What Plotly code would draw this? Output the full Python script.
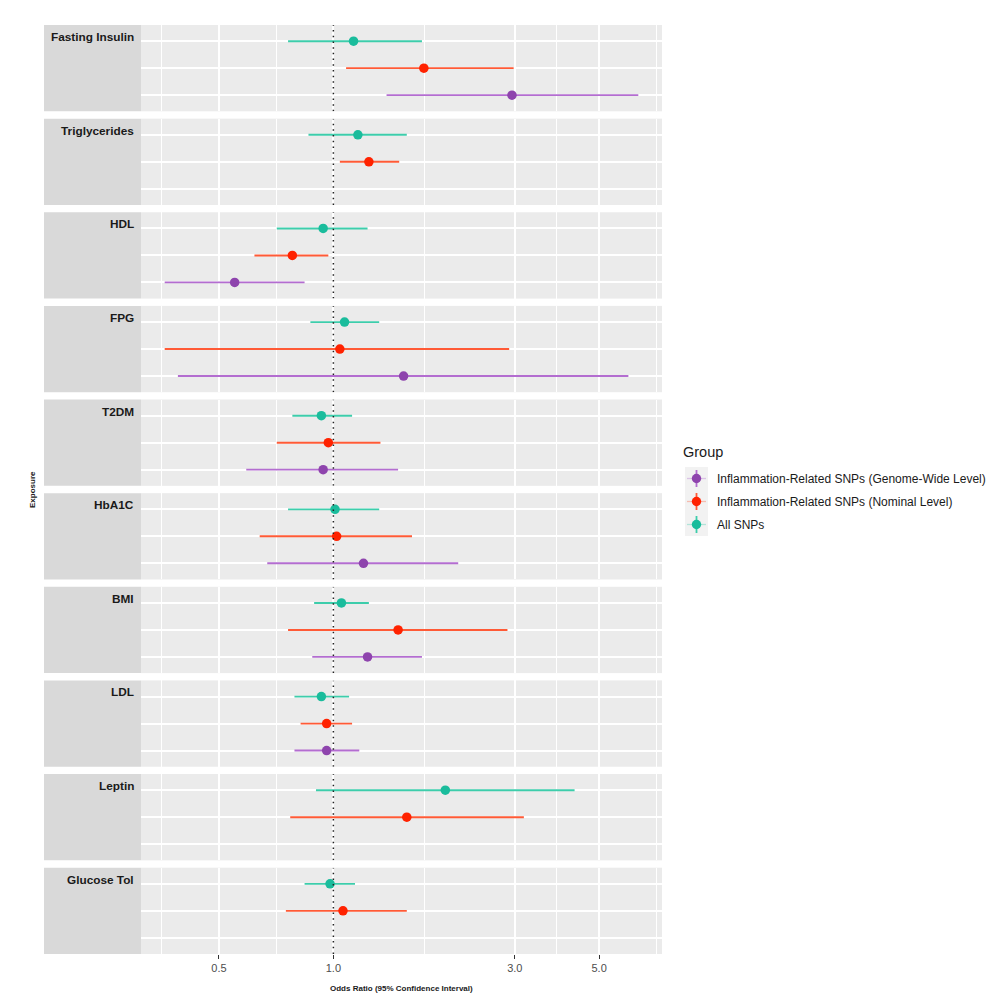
import math
import plotly.graph_objects as go
from plotly.subplots import make_subplots

# ---------------- data ----------------
exposures = ["Fasting Insulin", "Triglycerides", "HDL", "FPG", "T2DM",
             "HbA1C", "BMI", "LDL", "Leptin", "Glucose Tol"]
groups = ["Inflammation-Related SNPs (Genome-Wide Level)",
          "Inflammation-Related SNPs (Nominal Level)",
          "All SNPs"]

# All SNPs
all_or = [1.13, 1.16, 0.94, 1.07, 0.93, 1.01, 1.05, 0.93, 1.97, 0.98]
all_lo = [0.76, 0.86, 0.71, 0.87, 0.78, 0.76, 0.89, 0.79, 0.90, 0.84]
all_hi = [1.71, 1.56, 1.23, 1.32, 1.12, 1.32, 1.24, 1.10, 4.31, 1.14]
# Inflammation-related SNPs, nominal level
nom_or = [1.73, 1.24, 0.78, 1.04, 0.97, 1.02, 1.48, 0.96, 1.56, 1.06]
nom_lo = [1.08, 1.04, 0.62, 0.36, 0.71, 0.64, 0.76, 0.82, 0.77, 0.75]
nom_hi = [2.98, 1.49, 0.97, 2.90, 1.33, 1.61, 2.87, 1.12, 3.17, 1.56]
# Inflammation-related SNPs, genome-wide level
gw_or = [2.95, None, 0.55, 1.53, 0.94, 1.20, 1.23, 0.96, None, None]
gw_lo = [1.38, None, 0.36, 0.39, 0.59, 0.67, 0.88, 0.79, None, None]
gw_hi = [6.34, None, 0.84, 5.97, 1.48, 2.13, 1.71, 1.17, None, None]

x_ticks = [0.5, 1.0, 3.0, 5.0]
x_ticktext = ["0.5", "1.0", "3.0", "5.0"]
ref_value = 1.0

series = {
    groups[0]: (gw_or, gw_lo, gw_hi),
    groups[1]: (nom_or, nom_lo, nom_hi),
    groups[2]: (all_or, all_lo, all_hi),
}
level = {groups[0]: 1, groups[1]: 2, groups[2]: 3}
pt_color = {groups[0]: "#8E44AD", groups[1]: "#FF2200", groups[2]: "#1ABC9C"}
ln_color = {groups[0]: "#B36DD0", groups[1]: "#FF5A36", groups[2]: "#3DCDAB"}

# ---------------- geometry ----------------
W, H = 1000, 997
L, R, T, B = 141, 662, 25, 954
PW, PH = R - L, B - T
GAP = 7.3
n = len(exposures)

def px2x(px):
    return (px - L) / PW

def py2y(py):
    return (B - py) / PH

fig = make_subplots(rows=n, cols=1, shared_xaxes=True,
                    vertical_spacing=GAP / PH)

# x range: data range with 5% expansion on log scale (ggplot default)
vals = [v for arr in (all_lo, all_hi, nom_lo, nom_hi, gw_lo, gw_hi) for v in arr if v is not None]
lmin, lmax = math.log10(min(vals)), math.log10(max(vals))
ex = 0.05 * (lmax - lmin)
xr = [lmin - ex, lmax + ex]

# minor breaks (ggplot regular_minor_breaks on log scale)
lb = [math.log10(v) for v in x_ticks]
bd = lb[1] - lb[0]
ext = [lb[0] - bd] + lb + [lb[-1] + bd]
minor = [10 ** ((ext[i] + ext[i + 1]) / 2) for i in range(len(ext) - 1)]

FONT = "Liberation Sans, Arial, Helvetica, sans-serif"

for i, expo in enumerate(exposures):
    r = i + 1
    for g in groups:
        o, lo, hi = series[g]
        if o[i] is None:
            continue
        fig.add_trace(go.Scatter(
            x=[o[i]], y=[level[g]], mode="markers",
            marker=dict(color=pt_color[g], size=9.5, line=dict(width=0)),
            error_x=dict(type="data", symmetric=False,
                         array=[hi[i] - o[i]], arrayminus=[o[i] - lo[i]],
                         width=0, thickness=1.9, color=ln_color[g]),
            name=g, showlegend=False, hoverinfo="skip"),
            row=r, col=1)
    # dotted reference line at OR = 1
    fig.add_trace(go.Scatter(
        x=[ref_value, ref_value], y=[0.4, 3.6], mode="lines",
        line=dict(color="#222222", width=1.5, dash="1.5px,4.2px"),
        showlegend=False, hoverinfo="skip"), row=r, col=1)

    yname = "y" if r == 1 else f"y{r}"
    # strip
    fig.add_shape(type="rect", xref="paper", yref=f"{yname} domain",
                  x0=px2x(44), x1=0, y0=0, y1=1,
                  fillcolor="#D9D9D9", line=dict(width=0), layer="below")
    fig.add_annotation(text=f"<b>{expo}</b>", xref="paper", yref=f"{yname} domain",
                       x=px2x(135.5), y=1, xanchor="right", yanchor="top",
                       yshift=-3, showarrow=False,
                       font=dict(family=FONT, size=11.8, color="#1A1A1A"))

    fig.update_yaxes(row=r, col=1, range=[0.4, 3.6], tickvals=[1, 2, 3],
                     showticklabels=False, ticks="", showgrid=True,
                     gridcolor="white", gridwidth=1.6, zeroline=False,
                     showline=False, fixedrange=True)
    fig.update_xaxes(row=r, col=1, type="log", range=xr,
                     tickvals=x_ticks, ticktext=x_ticktext,
                     showgrid=True, gridcolor="white", gridwidth=1.6,
                     zeroline=False, showline=False,
                     minor=dict(tickvals=minor, showgrid=True,
                                gridcolor="white", gridwidth=0.8, ticks=""),
                     showticklabels=(r == n),
                     ticks="outside" if r == n else "",
                     ticklen=4, tickwidth=1, tickcolor="#333333",
                     tickfont=dict(family=FONT, size=11, color="#4D4D4D"))

# axis titles
fig.add_annotation(text="<b>Odds Ratio (95% Confidence Interval)</b>",
                   xref="paper", yref="paper", x=0.5, y=py2y(988),
                   xanchor="center", yanchor="middle", showarrow=False,
                   font=dict(family=FONT, size=8, color="#1A1A1A"))
fig.add_annotation(text="<b>Exposure</b>", xref="paper", yref="paper",
                   x=px2x(32), y=py2y(490), textangle=-90,
                   xanchor="center", yanchor="middle", showarrow=False,
                   font=dict(family=FONT, size=8, color="#1A1A1A"))

# ---------------- legend (ggplot-style keys) ----------------
fig.add_annotation(text="Group", xref="paper", yref="paper",
                   x=px2x(681), y=py2y(452), xanchor="left", yanchor="middle",
                   showarrow=False, font=dict(family=FONT, size=14.5, color="#1A1A1A"))
key_x0, key_x1 = 685, 708
key_top = 467
key_h = 23
kx = (key_x0 + key_x1) / 2
for k, g in enumerate(groups):
    y0 = key_top + k * key_h
    y1 = y0 + key_h
    cy = (y0 + y1) / 2
    fig.add_shape(type="rect", xref="paper", yref="paper",
                  x0=px2x(key_x0), x1=px2x(key_x1), y0=py2y(y1), y1=py2y(y0),
                  fillcolor="#F2F2F2", line=dict(width=0))
    fig.add_shape(type="line", xref="paper", yref="paper",
                  x0=px2x(key_x0 + 2), x1=px2x(key_x1 - 2), y0=py2y(cy), y1=py2y(cy),
                  line=dict(color=ln_color[g], width=1.3), opacity=0.35)
    fig.add_shape(type="line", xref="paper", yref="paper",
                  x0=px2x(kx), x1=px2x(kx), y0=py2y(y1 - 3), y1=py2y(y0 + 3),
                  line=dict(color=ln_color[g], width=1.8))
    fig.add_shape(type="circle", xref="paper", yref="paper",
                  xsizemode="pixel", ysizemode="pixel",
                  xanchor=px2x(kx), yanchor=py2y(cy),
                  x0=-4.7, x1=4.7, y0=-4.7, y1=4.7,
                  fillcolor=pt_color[g], line=dict(width=0))
    fig.add_annotation(text=g, xref="paper", yref="paper",
                       x=px2x(715), y=py2y(cy), xanchor="left", yanchor="middle",
                       showarrow=False,
                       font=dict(family=FONT, size=12, color="#1A1A1A"))

fig.update_layout(
    width=W, height=H,
    margin=dict(l=L, r=W - R, t=T, b=H - B, pad=0),
    paper_bgcolor="white", plot_bgcolor="#EBEBEB",
    showlegend=False,
    font=dict(family=FONT, color="#1A1A1A"),
)

fig.write_html("out.html")
